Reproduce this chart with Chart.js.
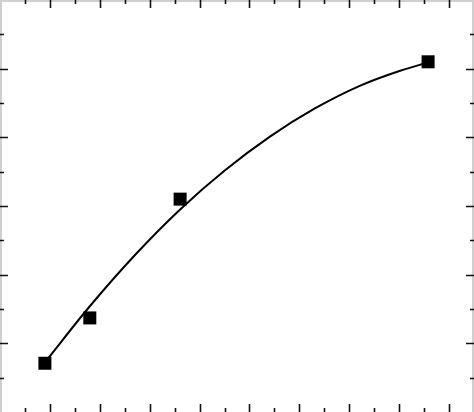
<!DOCTYPE html>
<html>
<head>
<meta charset="utf-8">
<script src="https://cdn.jsdelivr.net/npm/chart.js@4.4.1/dist/chart.umd.min.js"></script>
<style>
  html, body { margin: 0; padding: 0; background: #fff; }
  #wrap { width: 474px; height: 412px; }
</style>
</head>
<body>
<div id="wrap"><canvas id="fitChart" width="474" height="412"></canvas></div>
<script>
// --- measured points (squares) ---
const measX = [0.90, 1.80, 3.61, 8.58];
const measY = [0.71, 1.37, 3.10, 5.10];

// --- fitted curve ---
const fitX = [0.94, 1.80, 2.71, 3.61, 4.51, 5.41, 6.31, 7.21, 8.02, 8.58];
const fitY = [0.76, 1.54, 2.29, 2.95, 3.52, 4.01, 4.42, 4.75, 4.97, 5.09];

// --- axis ranges / tick steps ---
const xRange = [0, 9.5];
const yRange = [0, 6];
const tickStep = 0.5;

const toPoints = (xs, ys) => xs.map((x, i) => ({ x: x, y: ys[i] }));

// inward ticks on all four sides + frame
const frameTicks = {
    id: 'frameTicks',
    afterDraw(chart) {
        const ctx = chart.ctx;
        const a = chart.chartArea;
        const xs = chart.scales.x;
        const ys = chart.scales.y;
        ctx.save();
        ctx.strokeStyle = '#cfcfcf';
        ctx.lineWidth = 2;
        ctx.strokeRect(a.left + 1, a.top + 1, a.right - a.left - 2, a.bottom - a.top + 4);

        ctx.strokeStyle = '#111';
        ctx.lineWidth = 1.6;
        ctx.beginPath();
        xs.ticks.forEach(t => {
            const px = Math.round(xs.getPixelForValue(t.value)) + 0.5;
            if (px <= a.left + 2 || px >= a.right - 2) return;
            const len = Number.isInteger(Math.round(t.value * 100) / 100) ? 8 : 4;
            ctx.moveTo(px, a.top); ctx.lineTo(px, a.top + len);
            ctx.moveTo(px, a.bottom); ctx.lineTo(px, a.bottom - len);
        });
        ys.ticks.forEach(t => {
            const py = Math.round(ys.getPixelForValue(t.value)) + 0.5;
            if (py <= a.top + 2 || py >= a.bottom - 2) return;
            const len = Number.isInteger(Math.round(t.value * 100) / 100) ? 8 : 4;
            ctx.moveTo(a.left, py); ctx.lineTo(a.left + len, py);
            ctx.moveTo(a.right, py); ctx.lineTo(a.right - len, py);
        });
        ctx.stroke();
        ctx.restore();
    }
};

const whiteBg = {
    id: 'whiteBg',
    beforeDraw(chart) {
        const ctx = chart.ctx;
        ctx.save();
        ctx.fillStyle = '#fff';
        ctx.fillRect(0, 0, chart.width, chart.height);
        ctx.restore();
    }
};

new Chart(document.getElementById('fitChart'), {
    type: 'scatter',
    data: {
        datasets: [
            {
                label: 'Data',
                data: toPoints(measX, measY),
                pointStyle: 'rect',
                pointRadius: 9.2,
                pointHoverRadius: 9.2,
                backgroundColor: '#000',
                borderColor: '#000',
                borderWidth: 0,
                showLine: false
            },
            {
                label: 'Fit',
                data: toPoints(fitX, fitY),
                showLine: true,
                borderColor: '#000',
                borderWidth: 2,
                pointRadius: 0,
                cubicInterpolationMode: 'monotone',
                fill: false
            }
        ]
    },
    options: {
        responsive: false,
        animation: false,
        devicePixelRatio: 1,
        layout: { padding: 0, autoPadding: false },
        plugins: { legend: { display: false }, tooltip: { enabled: false } },
        scales: {
            x: {
                type: 'linear',
                min: xRange[0], max: xRange[1],
                ticks: { display: false, stepSize: tickStep },
                grid: { display: false, drawTicks: false },
                border: { display: false }
            },
            y: {
                type: 'linear',
                min: yRange[0], max: yRange[1],
                ticks: { display: false, stepSize: tickStep },
                grid: { display: false, drawTicks: false },
                border: { display: false }
            }
        }
    },
    plugins: [whiteBg, frameTicks]
});
</script>
</body>
</html>
